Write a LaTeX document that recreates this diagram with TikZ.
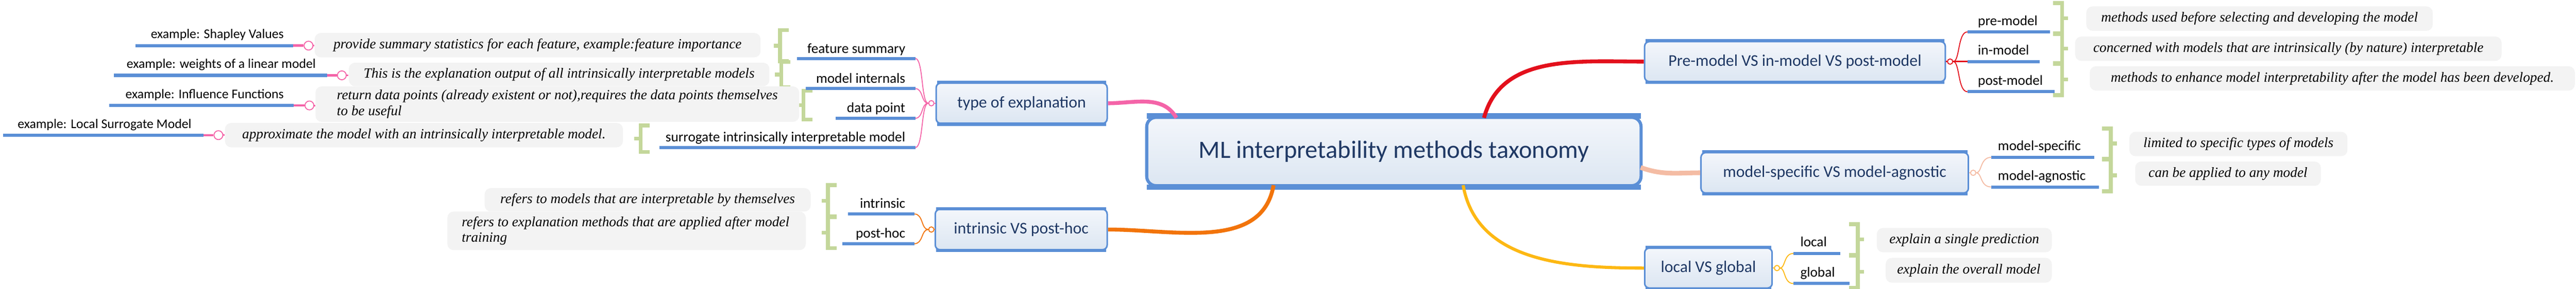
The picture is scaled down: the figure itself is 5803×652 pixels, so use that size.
\documentclass[tikz,border=0pt]{standalone}
\usepackage{fontspec}
\setmainfont{Carlito}
\newfontfamily\descfont{Liberation Serif}
\usetikzlibrary{calc}
\definecolor{ublue}{HTML}{5B8FD6}
\definecolor{tdark}{HTML}{1F3864}
\definecolor{topc}{HTML}{F3F6FB}
\definecolor{botc}{HTML}{DCE6F2}
\definecolor{dgray}{HTML}{F3F3F3}
\definecolor{brkc}{HTML}{C4D79B}
\definecolor{cpink}{HTML}{F464A8}
\definecolor{cred}{HTML}{E3101C}
\definecolor{csal}{HTML}{F4BCA4}
\definecolor{corange}{HTML}{F2740B}
\definecolor{cyellow}{HTML}{FDB813}
\tikzset{
 central/.style={draw=ublue,line width=2pt,rounded corners=6pt,top color=topc,bottom color=botc,text=tdark,font=\fontsize{16}{19}\selectfont,minimum width=11.13cm,minimum height=1.54cm,inner sep=0},
 lvl/.style={draw=ublue,line width=1pt,rounded corners=3pt,top color=topc,bottom color=botc,text=tdark,font=\fontsize{10.5}{12}\selectfont,inner sep=0},
 desc/.style={fill=dgray,rounded corners=4pt,font=\descfont\itshape\fontsize{9}{10}\selectfont,align=left,inner sep=0},
 lab/.style={font=\fontsize{9}{11}\selectfont,inner sep=0},
 exlab/.style={font=\fontsize{8.5}{10}\selectfont,inner sep=0},
 uline/.style={draw=ublue,line width=2pt},
 brk/.style={draw=brkc,line width=2.5pt},
 pcirc/.style={circle,draw,fill=white,minimum size=0.12cm,inner sep=0,line width=0.6pt},
 sub/.style={line width=0.6pt},
}
\newcommand\brL[3]{\draw[brk] (#1+20,#2) -- (#1,#2) -- (#1,#3) -- (#1+20,#3); \draw[brk] (#1,{(#2+#3)/2}) -- (#1-14,{(#2+#3)/2});}
\newcommand\brR[3]{\draw[brk] (#1-20,#2) -- (#1,#2) -- (#1,#3) -- (#1-20,#3); \draw[brk] (#1,{(#2+#3)/2}) -- (#1+14,{(#2+#3)/2});}
\newcommand\bars[2]{\draw[ublue,line width=#2] ($(#1.north west)+(4,0)$) -- ($(#1.north east)+(-4,0)$); \draw[ublue,line width=#2] ($(#1.south west)+(4,0)$) -- ($(#1.south east)+(-4,0)$);}
\begin{document}
\begin{tikzpicture}[x=0.01cm,y=-0.01cm]
\useasboundingbox (0,0) rectangle (5803,652);
% brackets (behind)
\brL{1757}{68}{138}
\brL{1760}{140}{197}
\brL{1810}{205}{270}
\brL{1443}{283}{343}
\brL{1865}{418}{488}
\brL{1865}{490}{560}
\brR{4645}{7}{75}
\brR{4645}{77}{142}
\brR{4645}{144}{215}
\brR{4755}{290}{358}
\brR{4755}{360}{432}
\brR{4185}{506}{575}
\brR{4185}{577}{650}
% descriptions
\node[desc,minimum width=10.04cm,minimum height=0.55cm] (dfs) at (1211,102) {provide summary statistics for each feature, example:feature importance};
\node[desc,minimum width=9.47cm,minimum height=0.53cm] (dmi) at (1259.5,168) {This is the explanation output of all intrinsically interpretable models};
\node[desc,minimum width=10.89cm,minimum height=0.80cm] (ddp) at (1255.5,235) {return data points (already existent or not),requires the data points themselves\\to be useful\hspace*{7.2cm}};
\node[desc,minimum width=8.96cm,minimum height=0.55cm] (dsur) at (955,305) {approximate the model with an intrinsically interpretable model.};
\node[desc,minimum width=7.34cm,minimum height=0.53cm] (din) at (1459,451) {refers to models that are interpretable by themselves};
\node[desc,minimum width=8.07cm,minimum height=0.87cm] (dph) at (1411.5,521) {refers to explanation methods that are applied after model\\training\hspace*{6.4cm}};
\node[desc,minimum width=7.8cm,minimum height=0.55cm] (dpre) at (5090,42) {methods used before selecting and developing the model};
\node[desc,minimum width=9.6cm,minimum height=0.55cm] (dinm) at (5155,110) {concerned with models that are intrinsically (by nature) interpretable};
\node[desc,minimum width=10.92cm,minimum height=0.55cm] (dpost) at (5254,177) {methods to enhance model interpretability after the model has been developed.};
\node[desc,minimum width=4.91cm,minimum height=0.55cm] (dms) at (5042.5,325) {limited to specific types of models};
\node[desc,minimum width=4.18cm,minimum height=0.55cm] (dma) at (5019,392) {can be applied to any model};
\node[desc,minimum width=3.94cm,minimum height=0.55cm] (dloc) at (4425,542) {explain a single prediction};
\node[desc,minimum width=3.74cm,minimum height=0.56cm] (dglo) at (4435,610) {explain the overall model};
% central and level-1 nodes
\node[central] (root) at (3140,342) {ML interpretability methods taxonomy};
\bars{root}{3.5pt}
\node[lvl,minimum width=3.85cm,minimum height=0.91cm] (toe) at (2301.5,233) {type of explanation};
\node[lvl,minimum width=3.87cm,minimum height=0.91cm] (ivp) at (2300.5,518) {intrinsic VS post-hoc};
\node[lvl,minimum width=6.77cm,minimum height=0.90cm] (pre) at (4043.5,139) {Pre-model VS in-model VS post-model};
\node[lvl,minimum width=6.02cm,minimum height=0.91cm] (msa) at (4133,390) {model-specific VS model-agnostic};
\node[lvl,minimum width=2.87cm,minimum height=0.90cm] (lvg) at (3848.5,605) {local VS global};
\foreach \n in {toe,ivp,pre,msa,lvg}{\bars{\n}{2pt}}
% main branches
\draw[cpink,line width=2.5pt] (2650,266) to[out=120,in=0] (toe.east);
\draw[cred,line width=2.5pt] (3343,266) to[out=75,in=180] (pre.west);
\draw[csal,line width=3pt] (3696,378) to[out=-20,in=180] (msa.west);
\draw[corange,line width=2.5pt] (2869,418) to[out=-100,in=0] (ivp.east);
\draw[cyellow,line width=2pt] (3296,418) to[out=-80,in=180] (lvg.west);
% child labels and underlines
\node[lab,anchor=base east] (lfs) at (2040,120) {feature summary};
\node[lab,anchor=base east] (lmi) at (2040,187) {model internals};
\node[lab,anchor=base east] (ldp) at (2040,254) {data point};
\node[lab,anchor=base east] (lsur) at (2040,320) {surrogate intrinsically interpretable model};
\node[lab,anchor=base east] (lin) at (2040,470) {intrinsic};
\node[lab,anchor=base east] (lph) at (2040,537) {post-hoc};
\node[lab,anchor=base west] (lpre) at (4455,57) {pre-model};
\node[lab,anchor=base west] (linm) at (4455,124) {in-model};
\node[lab,anchor=base west] (lpost) at (4455,192) {post-model};
\node[lab,anchor=base west] (lms) at (4500,340) {model-specific};
\node[lab,anchor=base west] (lma) at (4500,407) {model-agnostic};
\node[lab,anchor=base west] (lloc) at (4055,557) {local};
\node[lab,anchor=base west] (lglo) at (4055,625) {global};
\foreach \n/\a/\b/\y in {ufs/1796/2062/132,umi/1815/2062/200,udp/1882/2062/267,usur/1485/2062/333,uin/1910/2060/483,uph/1898/2060/550,upre/4432/4618/72,uinm/4432/4595/139,upost/4432/4628/207,ums/4486/4718/355,uma/4486/4728/422,uloc/4040/4146/572,uglo/4040/4166/640}{
 \coordinate (\n a) at (\a,\y); \coordinate (\n b) at (\b,\y);
 \draw[uline] (\n a) -- (\n b);}
% parent circles and sub connectors
\node[pcirc,draw=cpink] (ctoe) at (2098,233) {};
\node[pcirc,draw=corange] (civp) at (2098,518) {};
\node[pcirc,draw=cred] (cpre) at (4393,139) {};
\node[pcirc,draw=csal] (cmsa) at (4445,390) {};
\node[pcirc,draw=cyellow] (clvg) at (4003,605) {};
\foreach \u in {ufs,umi,udp,usur}{\draw[sub,cpink] (ctoe.west) .. controls (2075,233) and (2080,0|-\u b) .. (\u b);}
\draw[sub,cpink] (toe.west) -- (ctoe.east);
\foreach \u in {uin,uph}{\draw[sub,corange] (civp.west) .. controls (2075,518) and (2080,0|-\u b) .. (\u b);}
\draw[sub,corange] (ivp.west) -- (civp.east);
\foreach \u in {upre,uinm,upost}{\draw[sub,cred] (cpre.east) .. controls (4415,139) and (4410,0|-\u a) .. (\u a);}
\draw[cred,line width=1pt] (pre.east) -- (cpre.west) (cpre.east) -- (uinma);
\foreach \u in {ums,uma}{\draw[sub,csal] (cmsa.east) .. controls (4465,390) and (4460,0|-\u a) .. (\u a);}
\draw[sub,csal] (msa.east) -- (cmsa.west);
\foreach \u in {uloc,uglo}{\draw[sub,cyellow] (clvg.east) .. controls (4022,605) and (4018,0|-\u a) .. (\u a);}
\draw[sub,cyellow] (lvg.east) -- (clvg.west);
% examples
\foreach \n/\a/\b/\y/\c/\d/\t/\tx in {
 esh/305/660/103/695/dfs/{example: Shapley Values}/640,
 ewl/257/737/170/770/dmi/{example: weights of a linear model}/712,
 eif/246/662/238/697/ddp/{example: Influence Functions}/640,
 els/7/458/305/492/dsur/{example: Local Surrogate Model}/432}{
 \coordinate (\n a) at (\a,\y); \coordinate (\n b) at (\b,\y);
 \draw[uline] (\n a) -- (\n b);
 \node[exlab,anchor=base east] (\n l) at (\tx,\y-16) {\t};
 \node[pcirc,draw=cpink,minimum size=0.2cm] (\n c) at (\c,\y) {};
 \draw[cpink,line width=1.5pt] (\n b) -- (\n c.west);
 \draw[cpink,line width=1pt] (\n c.east) -- (\d.west|-\n c);}
\end{tikzpicture}
\end{document}
